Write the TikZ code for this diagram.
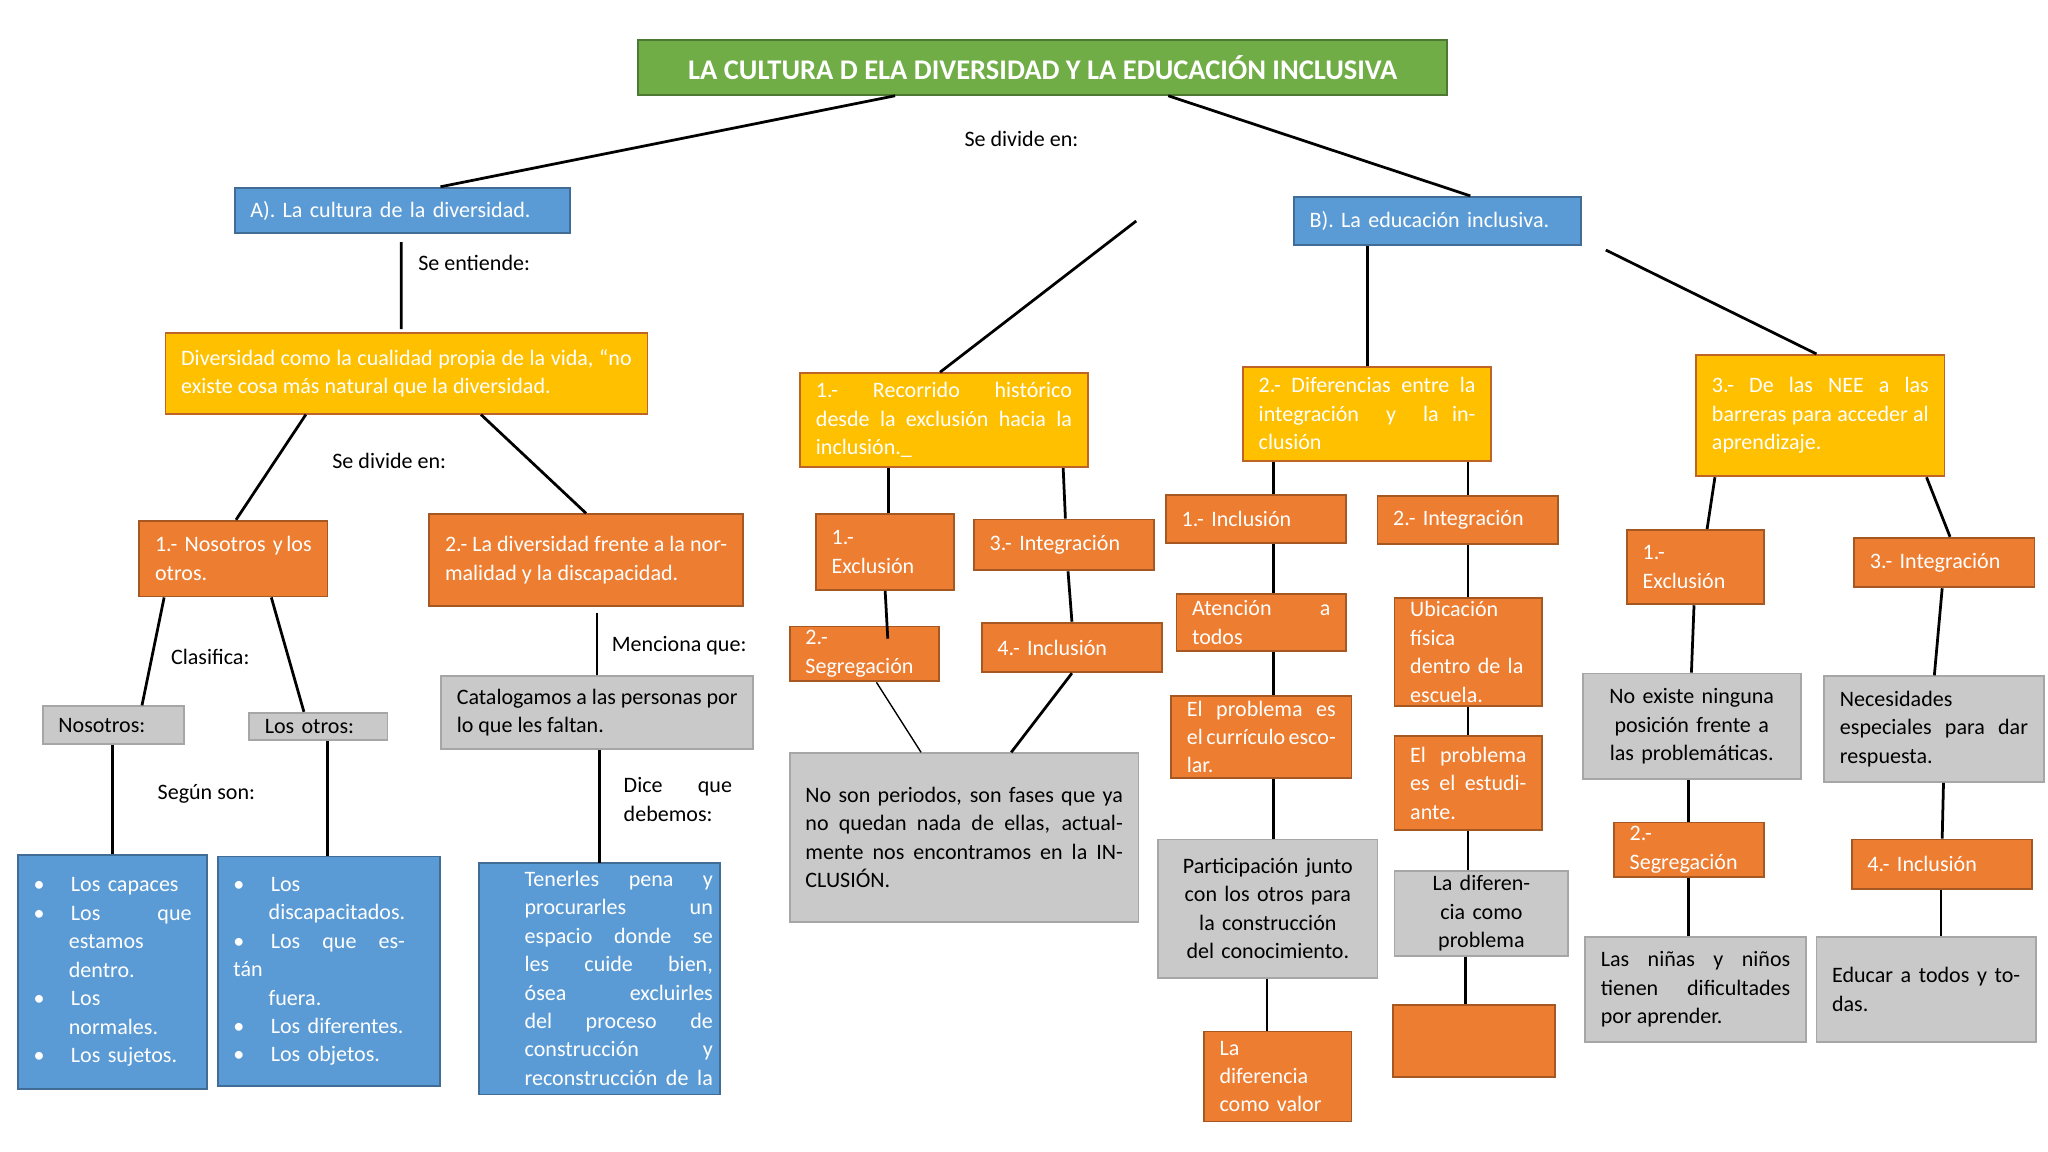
\documentclass[tikz,border=0pt]{standalone}
\usepackage{fontspec}
\setmainfont{Carlito}
\begin{document}
\definecolor{cg}{HTML}{70AD47}\definecolor{cb}{HTML}{5B9BD5}\definecolor{cy}{HTML}{FFC000}
\definecolor{co}{HTML}{ED7D31}\definecolor{cgr}{HTML}{C9C9C9}
\begin{tikzpicture}[x=0.01cm,y=-0.01cm,
 fs/.style={font=\fontsize{4.8}{6.2}\selectfont},
 g/.style={fill=cg,draw=cg!70!black,text=white},
 b/.style={fill=cb,draw=cb!70!black,text=white},
 ye/.style={fill=cy,draw=co!80!black,text=white},
 o/.style={fill=co,draw=co!70!black,text=white},
 gr/.style={fill=cgr,draw=gray!70,text=black},
 ln/.style={line width=0.6pt},
 lab/.style={fs,anchor=center}]
\useasboundingbox (0,0) rectangle (1568,882);
\newcommand{\mybox}[8]{%
 \pgfmathsetmacro{\mw}{(#4-#2)*0.01}\pgfmathsetmacro{\mh}{(#5-#3)*0.01}\pgfmathsetmacro{\tw}{(#4-#2-24)*0.01}%
 \node[#6,minimum width=\mw cm,minimum height=\mh cm,inner sep=0pt,anchor=north west] (#1) at (#2,#3) {};
 \node[fs,text=#6/.try,text width=\tw cm,#7] at (#1.center) {#8};}
\tikzset{w/.style={text=white},k/.style={text=black}}
\newcommand{\wb}[8]{\mybox{#1}{#2}{#3}{#4}{#5}{#6}{#7}{#8}}
% boxes
\node[g,minimum width=6.19cm,minimum height=0.38cm,anchor=north west,font=\fontsize{6.2}{7}\selectfont\bfseries] (t) at (488,30) {LA CULTURA D ELA DIVERSIDAD Y LA EDUCACIÓN INCLUSIVA};
\mybox{A}{179}{143}{436}{178}{b}{w,align=left}{A). La cultura de la diversidad.}
\mybox{B}{990}{150}{1210}{187}{b}{w,align=left}{B). La educación inclusiva.}
\mybox{D}{126}{254}{495}{316}{ye}{w,align=justify}{Diversidad como la cualidad propia de la vida, “no existe cosa más natural que la diversidad.}
\mybox{N1}{106}{398}{250}{456}{o}{w,align=justify}{1.- \ Nosotros \ y los otros.}
\mybox{N2}{328}{393}{568}{463}{o}{w,align=justify}{2.- La diversidad frente a la normalidad y la discapacidad.}
\mybox{NO}{32}{540}{140}{569}{gr}{k,align=left}{Nosotros:}
\mybox{LO}{190}{545}{296}{566}{gr}{k,align=left}{Los otros:}
\mybox{CA}{337}{517}{576}{573}{gr}{k,align=justify}{Catalogamos a las personas por lo que les faltan.}
\mybox{L1}{13}{654}{158}{833}{b}{w,align=left}{\textbullet\hspace{1.2em}Los capaces\\\textbullet\hspace{1.2em}Los\hfill que\\\hspace*{1.6em}estamos\\\hspace*{1.6em}dentro.\\\textbullet\hspace{1.2em}Los\\\hspace*{1.6em}normales.\\\textbullet\hspace{1.2em}Los sujetos.}
\mybox{L2}{166}{655}{336}{831}{b}{w,align=left}{\textbullet\hspace{1.2em}Los\\\hspace*{1.6em}discapacitados.\\\textbullet\hspace{1.2em}Los\quad que\quad están\\\hspace*{1.6em}fuera.\\\textbullet\hspace{1.2em}Los diferentes.\\\textbullet\hspace{1.2em}Los objetos.}
\path[b] (367,661) rectangle (551,838);
\node (L3) at (459,750) {};
\begin{scope}\clip (367,661) rectangle (551,838);
\node[fs,text=white,text width=1.44cm,align=justify,anchor=north west,inner sep=0pt] at (401,666) {Tenerles pena y procurarles un espacio donde se les cuide bien, ósea excluirles del proceso de construcción y reconstrucción de la identidad.};
\end{scope}
\coordinate (L3n) at (459,661);
\mybox{Y1}{612}{285}{832}{357}{ye}{w,align=justify}{1.- \ Recorrido \ histórico desde la exclusión hacia la inclusión.\_}
\mybox{Y2}{951}{280}{1141}{352}{ye}{w,align=justify}{2.- Diferencias entre la integración \ y \ la inclusión}
\mybox{Y3}{1298}{271}{1488}{364}{ye}{w,align=justify}{3.- De las NEE a las barreras para acceder al aprendizaje.}
\mybox{E1}{624}{393}{730}{451}{o}{w,align=left}{1.-\\Exclusión}
\mybox{I3}{745}{397}{883}{436}{o}{w,align=left}{3.- Integración}
\mybox{S2}{604}{479}{718}{521}{o}{w,align=left}{2.-\\Segregación}
\mybox{I4}{751}{476}{889}{514}{o}{w,align=left}{4.- Inclusión}
\mybox{G1}{604}{576}{871}{705}{gr}{k,align=justify}{No son periodos, son fases que ya no quedan nada de ellas, actualmente nos encontramos en la INCLUSIÓN.}
\mybox{IN}{892}{378}{1030}{415}{o}{w,align=left}{1.- Inclusión}
\mybox{IT}{1054}{379}{1192}{416}{o}{w,align=left}{2.- Integración}
\mybox{AT}{900}{454}{1030}{498}{o}{w,align=justify}{Atención \hfill a todos}
\mybox{UB}{1067}{457}{1180}{540}{o}{w,align=left}{Ubicación física\\dentro de la escuela.}
\mybox{PC}{896}{532}{1034}{595}{o}{w,align=justify}{El problema es el currículo escolar.}
\mybox{PE}{1067}{563}{1180}{635}{o}{w,align=justify}{El problema es el estudiante.}
\mybox{PA}{886}{642}{1054}{748}{gr}{k,align=center}{Participación junto con los otros para la construcción del conocimiento.}
\mybox{DP}{1067}{666}{1200}{731}{gr}{k,align=center}{La diferencia como problema}
\mybox{DV}{921}{789}{1034}{858}{o}{w,align=left}{La\\diferencia\\como valor}
\mybox{EM}{1066}{769}{1190}{824}{o}{w}{}
\mybox{X1}{1245}{405}{1350}{462}{o}{w,align=left}{1.-\\Exclusión}
\mybox{X3}{1419}{411}{1557}{449}{o}{w,align=left}{3.- Integración}
\mybox{NE}{1211}{515}{1378}{596}{gr}{k,align=center}{No existe ninguna posición frente a las problemáticas.}
\mybox{NS}{1396}{517}{1564}{598}{gr}{k,align=justify}{Necesidades especiales para dar respuesta.}
\mybox{X2}{1235}{629}{1350}{671}{o}{w,align=left}{2.-\\Segregación}
\mybox{X4}{1417}{642}{1555}{680}{o}{w,align=left}{4.- Inclusión}
\mybox{NI}{1213}{717}{1382}{797}{gr}{k,align=justify}{Las niñas y niños tienen dificultades por aprender.}
\mybox{ED}{1390}{717}{1558}{797}{gr}{k,align=justify}{Educar a todos y todas.}
% connectors
\draw[ln] ([xshift=-1.13cm]t.south) -- ([xshift=0.29cm]A.north);
\draw[ln] ([xshift=0.96cm]t.south) -- ([xshift=0.25cm]B.north);
\draw[ln] ([xshift=-0.01cm,yshift=-0.06cm]A.south) -- ([xshift=-0.04cm,yshift=0.02cm]D.north);
\draw[ln] ([xshift=-0.77cm]D.south) -- ([xshift=0.02cm]N1.north);
\draw[ln] ([xshift=0.57cm]D.south) -- ([xshift=-0.0cm]N2.north);
\draw[ln] ([xshift=-0.53cm]N1.south) -- ([xshift=0.22cm]NO.north);
\draw[ln] ([xshift=0.29cm]N1.south) -- ([xshift=-0.11cm]LO.north);
\draw[ln] (NO.south -| 86,0) -- (L1.north -| 86,0);
\draw[ln] (LO.south -| 251,0) -- (L2.north -| 251,0);
\draw[ln] ([yshift=-0.05cm]N2.south -| 457,0) -- (CA.north -| 457,0);
\draw[ln] (CA.south -| 459,0) -- (L3n);
\draw[ln] ([xshift=-1.2cm]B.west) -- ([xshift=-0.03cm]Y1.north) ;
\draw[ln] ([xshift=1.47cm]Y1.north) ++(0,0) ;
\draw[ln] (B.south -| 1047,0) -- (Y2.north -| 1047,0);
\draw[ln] ([xshift=0.18cm,yshift=-0.03cm]B.south east) -- ([xshift=-0.03cm]Y3.north);
\draw[ln] (Y1.south -| 680,0) -- (E1.north -| 680,0);
\draw[ln] ([xshift=0.00cm]E1.south) ++(0,0) -- ([xshift=0.18cm,yshift=-0.1cm]S2.north);
\draw[ln] (Y1.south -| 814,0) -- ([xshift=0.01cm]I3.north);
\draw[ln] ([xshift=0.03cm]I3.south) -- (I4.north);
\draw[ln,line width=0.3pt] ([xshift=0.12cm]S2.south west) ++(0.55cm,0) -- ([xshift=-0.33cm]G1.north);
\draw[ln] (I4.south) -- ([xshift=0.36cm]G1.north);
\draw[ln] (Y2.south -| 975,0) -- (IN.north -| 975,0);
\draw[ln] (Y2.south -| 1124,0) -- (IT.north -| 1124,0);
\draw[ln] (IN.south -| 975,0) -- (AT.north -| 975,0);
\draw[ln] (AT.south -| 975,0) -- (PC.north -| 975,0);
\draw[ln] (PC.south -| 975,0) -- (PA.north -| 975,0);
\draw[ln] (PA.south -| 970,0) -- (DV.north -| 970,0);
\draw[ln] (IT.south -| 1124,0) -- (UB.north -| 1124,0);
\draw[ln] (UB.south -| 1124,0) -- (PE.north -| 1124,0);
\draw[ln] (PE.south -| 1124,0) -- (DP.north -| 1124,0);
\draw[ln] (DP.south -| 1122,0) -- (EM.north -| 1122,0);
\draw[ln] (Y3.south -| 1313,0) -- (X1.north -| 1307,0);
\draw[ln] (X1.south -| 1297,0) -- (NE.north -| 1295,0);
\draw[ln] (NE.south -| 1293,0) -- (X2.north -| 1293,0);
\draw[ln] (X2.south -| 1293,0) -- (NI.north -| 1293,0);
\draw[ln] (Y3.south -| 1475,0) -- (X3.north -| 1493,0);
\draw[ln] (X3.south -| 1487,0) -- (NS.north -| 1481,0);
\draw[ln] (NS.south -| 1488,0) -- (X4.north -| 1487,0);
\draw[ln] (X4.south -| 1486,0) -- (ED.north -| 1486,0);
% labels
\node[lab] at (782,106) {Se divide en:};
\node[lab] at (363,201) {Se entiende:};
\node[lab] at (298,353) {Se divide en:};
\node[lab] at (161,503) {Clasifica:};
\node[lab] at (158,608) {Según son:};
\node[lab] at (520,494) {Menciona que:};
\node[lab,align=left] at (519,612) {Dice\hspace{1.6em}que\\debemos:};
\end{tikzpicture}
\end{document}
